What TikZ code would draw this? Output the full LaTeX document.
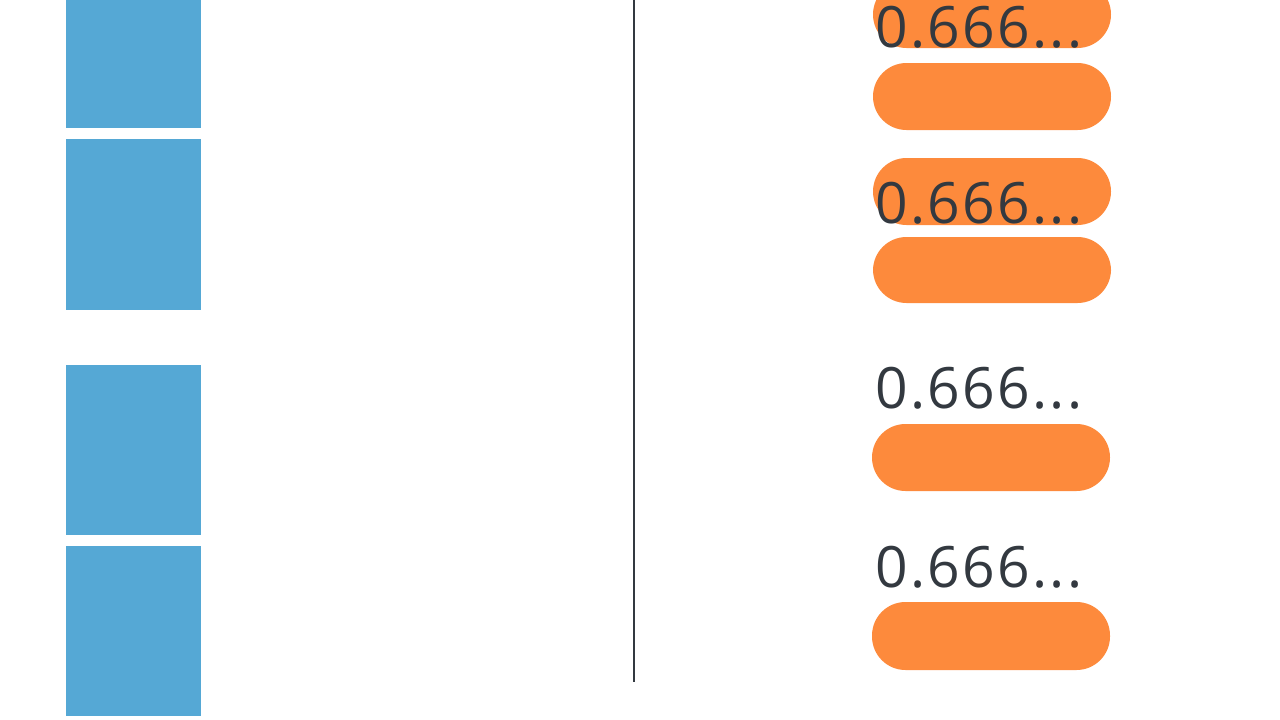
\documentclass[tikz,border=0pt]{standalone}
\usepackage{fontspec}
\setmainfont{Open Sans}
\definecolor{barblue}{HTML}{55A8D5}
\definecolor{pillorange}{HTML}{FD8A3C}
\definecolor{txtgray}{HTML}{333940}
\begin{document}
\begin{tikzpicture}[x=1pt,y=-1pt,
  bar/.style={fill=barblue,draw=none},
  pill/.style={fill=pillorange,draw=none,rounded corners=33.5pt},
  val/.style={anchor=base west,inner sep=0pt,text=txtgray,font=\fontsize{57}{60}\selectfont\addfontfeature{LetterSpace=4}}]
\useasboundingbox (0,0) rectangle (1280,720);
\begin{scope}
\clip (0,0) rectangle (1280,720);
% blue column
\path[bar] (66,-10) rectangle (201,128);
\path[bar] (66,139) rectangle (201,310);
\path[bar] (66,365) rectangle (201,535);
\path[bar] (66,546) rectangle (201,716);
% divider
\coordinate (dtop) at (634,-2);
\coordinate (dbot) at (634,682);
\draw[txtgray,line width=1.6pt] (dtop) -- (dbot);
% orange pills
\path[pill] (873,-19) rectangle (1111,48);
\path[pill] (873,63) rectangle (1111,130);
\path[pill] (873,158) rectangle (1111,225);
\path[pill] (873,237) rectangle (1111,303);
\path[pill] (872,424) rectangle (1110,491);
\path[pill] (872,602) rectangle (1110,670);
% values
\node[val] (v1) at (875,47) {0.666...};
\node[val] (v2) at (875,223) {0.666...};
\node[val] (v3) at (875,408) {0.666...};
\node[val] (v4) at (875,587) {0.666...};
\end{scope}
\end{tikzpicture}
\end{document}
